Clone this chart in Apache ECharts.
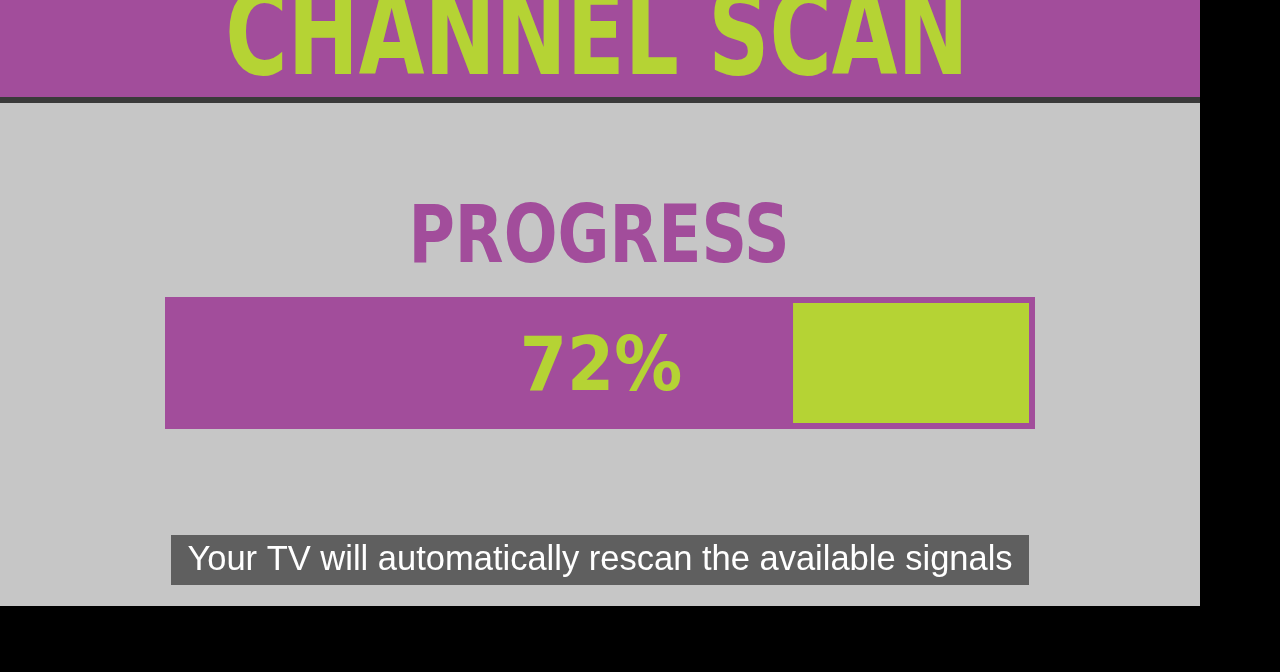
<!DOCTYPE html>
<html><head><meta charset="utf-8">
<script src="https://cdn.jsdelivr.net/npm/echarts@6/dist/echarts.min.js"></script>
<style>html,body{margin:0;padding:0;background:#000}#main{width:1280px;height:672px}</style>
</head><body><div id="main"></div>
<script>
const categories = ['scan'];
const doneValues = [72.5];
const remainingValues = [27.5];
const progressLabel = '72%';

const PURPLE = '#a24d9b', GREEN = '#b5d334';
const FONT = '"DejaVu Sans Condensed", "DejaVu Sans", sans-serif';
const chart = echarts.init(document.getElementById('main'));
chart.setOption({
  backgroundColor: '#000',
  animation: false,
  graphic: [
    { type: 'rect', z: -10, shape: { x: 0, y: 0, width: 1200, height: 606 }, style: { fill: '#c6c6c6' } },
    { type: 'rect', z: -9, shape: { x: 0, y: 0, width: 1200, height: 97 }, style: { fill: PURPLE } },
    { type: 'rect', z: -9, shape: { x: 0, y: 97, width: 1200, height: 6 }, style: { fill: '#3a3a3a' } },
    { type: 'text', x: 597, y: 102, scaleX: 0.8, style: { text: 'CHANNEL SCAN', fill: GREEN, font: 'bold 118px ' + FONT, textAlign: 'center', textVerticalAlign: 'bottom', shadowBlur: 4, shadowColor: 'rgba(0,0,0,0.4)', shadowOffsetY: 2 } },
    { type: 'text', x: 599, y: 241, scaleX: 0.88, style: { text: 'PROGRESS', fill: PURPLE, font: 'bold 80px ' + FONT, textAlign: 'center', textVerticalAlign: 'middle' } },
    { type: 'rect', z: -5, shape: { x: 165, y: 297, width: 870, height: 132 }, style: { fill: PURPLE } },
    { type: 'text', z: 10, x: 601, y: 371, scaleX: 1.02, style: { text: progressLabel, fill: GREEN, font: 'bold 74px ' + FONT, textAlign: 'center', textVerticalAlign: 'middle' } },
    { type: 'rect', shape: { x: 171, y: 535, width: 858, height: 50 }, style: { fill: '#5f5f5f' } },
    { type: 'text', x: 600, y: 560, style: { text: 'Your TV will automatically rescan the available signals', fill: '#fff', font: '34.5px "Liberation Sans", Arial, sans-serif', textAlign: 'center', textVerticalAlign: 'middle' } }
  ],
  grid: { left: 171, top: 303, width: 858, height: 120 },
  xAxis: { type: 'value', min: 0, max: 100, show: false },
  yAxis: { type: 'category', data: categories, show: false },
  series: [
    { type: 'bar', stack: 'p', data: doneValues, barWidth: 120, itemStyle: { color: PURPLE } },
    { type: 'bar', stack: 'p', data: remainingValues, barWidth: 120, itemStyle: { color: GREEN } }
  ]
});
</script></body></html>
